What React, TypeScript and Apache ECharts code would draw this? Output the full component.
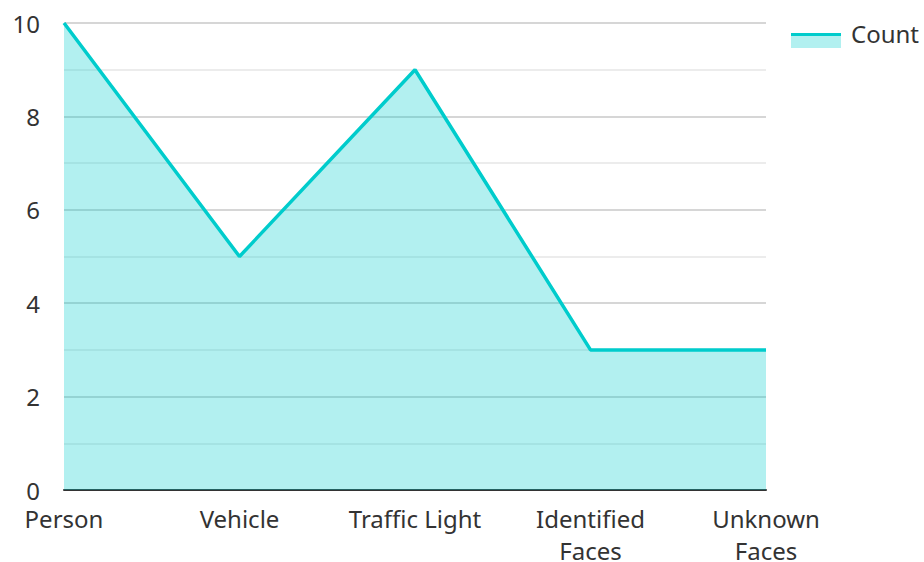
import React, { useEffect, useRef } from "react";
import * as echarts from "echarts";

const categories = ["Person", "Vehicle", "Traffic Light", "Identified\nFaces", "Unknown\nFaces"];
const counts = [10, 5, 9, 3, 3];
const seriesName = "Count";

export default function App() {
  const ref = useRef<HTMLDivElement>(null);
  useEffect(() => {
    if (!ref.current) return;
    const chart = echarts.init(ref.current, null, { renderer: "svg" });
    const font = "'Noto Sans', sans-serif";
    chart.setOption({
      animation: false,
      grid: { left: 64, right: 158, top: 23, bottom: 72, containLabel: false, outerBoundsMode: "none" },
      legend: {
        data: [seriesName],
        right: 0,
        top: 16,
        icon: "rect",
        itemWidth: 50,
        itemHeight: 15,
        itemGap: 10,
        itemStyle: { color: "rgba(0,0,0,0)", borderWidth: 0 },
        textStyle: { fontSize: 24, color: "#333", fontFamily: font },
      },
      xAxis: {
        type: "category",
        data: categories,
        boundaryGap: false,
        axisLine: { lineStyle: { color: "#333", width: 2 } },
        axisTick: { show: false },
        axisLabel: { fontSize: 24, color: "#333", fontFamily: font, margin: 12, lineHeight: 32, interval: 0 },
        splitLine: { show: false },
      },
      yAxis: {
        type: "value",
        min: 0,
        max: 10,
        interval: 2,
        axisLine: { show: false },
        axisTick: { show: false },
        axisLabel: { fontSize: 24, color: "#333", fontFamily: font, margin: 24 },
        splitLine: { lineStyle: { color: "#c8c8c8", width: 1.5 } },
        minorTick: { show: false, splitNumber: 2 },
        minorSplitLine: { show: true, lineStyle: { color: "#e6e6e6", width: 1.5 } },
      },
      series: [
        {
          name: seriesName,
          type: "line",
          data: counts,
          showSymbol: false,
          symbol: "none",
          lineStyle: { color: "#00cccc", width: 3.5 },
          itemStyle: { color: "#00cccc" },
          areaStyle: { color: "rgba(0,204,204,0.3)", opacity: 1 },
          z: 2,
        },
      ],
      graphic: [
        {
          type: "rect",
          shape: { x: 791, y: 33, width: 50, height: 15 },
          style: { fill: "rgba(0,204,204,0.3)" },
          z: 99,
        },
        {
          type: "line",
          shape: { x1: 791, y1: 34.5, x2: 841, y2: 34.5 },
          style: { stroke: "#00cccc", lineWidth: 3 },
          z: 100,
        },
      ],
    });
    return () => chart.dispose();
  }, []);
  return <div ref={ref} style={{ width: 924, height: 562, position: "absolute", left: 0, top: 0 }} />;
}
